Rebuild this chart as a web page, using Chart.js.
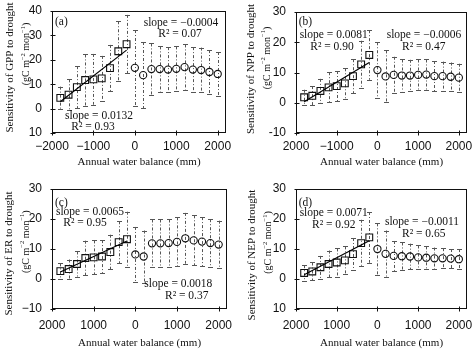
<!DOCTYPE html>
<html><head><meta charset="utf-8">
<script src="https://cdn.jsdelivr.net/npm/chart.js@4.4.0/dist/chart.umd.min.js"></script>
<style>
html,body{margin:0;padding:0;background:#fff;}
#wrap{position:relative;width:474px;height:351px;overflow:hidden;background:#fff;}
canvas{position:absolute;}
</style></head><body><div id="wrap">
<canvas id="ca" style="left:0px;top:0px"></canvas>
<canvas id="cb" style="left:237px;top:0px"></canvas>
<canvas id="cc" style="left:0px;top:175px"></canvas>
<canvas id="cd" style="left:237px;top:175px"></canvas>
</div>
<script>
// ---- data ----
const xNeg = [-1800,-1600,-1400,-1200,-1000,-800,-600,-400,-200];
const xPos = [0,200,400,600,800,1000,1200,1400,1600,1800,2000];
const xTicks = [-2000,-1000,0,1000,2000];

const gppNeg    = [4.4,5.7,8.8,11.7,12.0,12.4,16.6,23.5,26.4];
const gppNegErr = [4.6,6.3,8.6,10.5,10.4,9.2,9.5,12.3,12.0];
const gppPos    = [16.7,13.7,16.2,16.2,16.0,16.3,17.0,16.0,15.8,15.0,14.2];
const gppPosErr = [15.5,13.6,10.5,9.3,9.2,9.2,9.3,9.2,9.2,9.0,9.0];
const gppFit    = [0.0132, 26.6];

const nppNeg    = [1.8,2.3,3.9,5.1,5.5,6.4,8.8,12.7,15.8];
const nppNegErr = [2.5,3.2,4.0,5.0,5.0,5.0,5.6,7.8,8.2];
const nppPos    = [10.8,8.7,9.2,9.0,9.0,9.2,9.3,8.8,8.8,8.6,8.3];
const nppPosErr = [9.2,8.6,6.0,5.3,5.2,5.1,5.0,5.0,4.8,4.7,4.6];
const nppFit    = [0.0081, 14.9];

const erNeg    = [2.5,3.2,4.9,6.9,7.1,7.4,8.9,12.2,13.2];
const erNegErr = [2.6,3.2,4.2,5.8,5.7,5.5,5.8,7.0,9.2];
const erPos    = [8.1,7.4,11.8,11.8,11.9,12.3,13.5,12.8,12.4,11.9,11.4];
const erPosErr = [9.2,8.7,8.0,8.0,7.9,8.2,8.5,8.4,8.2,8.0,8.0];
const erFit    = [0.0065, 13.9];

const nepNeg    = [1.9,2.4,3.8,4.9,5.4,6.1,8.2,11.9,13.8];
const nepNegErr = [2.6,3.0,3.8,4.5,4.7,4.7,5.4,7.8,8.5];
const nepPos    = [9.9,8.3,7.6,7.5,7.4,7.1,7.0,6.8,6.8,6.7,6.5];
const nepPosErr = [8.6,7.8,5.0,4.6,4.3,4.0,3.8,3.6,3.4,3.2,3.4];
const nepFit    = [0.0071, 14.1];

const xLabelsA = ['\u22122000','\u22121000','0','1000','2000'];
const xLabelsB = ['2000','\u22121000','0','1000','2000'];
const xLabelsC = ['2000','1000','0','1000','2000'];
const xLabelsD = ['2000','1000','0','1000','2000'];
const yTicksA = [-10,0,10,20,30,40];
const yLabelsA = ['10','0','10','20','30','40'];
const yTicksB = [-10,0,10,20,30];
const yLabelsB = ['-10','0','10','20','30'];
const yLabelsC = ['\u221210','0','10','20','30'];
const yLabelsD = ['10','0','10','20','30'];

const xTitle = 'Annual water balance (mm)';
// unit line pieces: [text, isSuperscript]
const unitParts = [['(gC m',false],['\u22122',true],[' mon',false],['\u22121',true],[')',false]];

// ---- panels ----
const panels = [
 {id:'ca', neg:gppNeg, negErr:gppNegErr, pos:gppPos, posErr:gppPosErr, fit:gppFit,
  yMin:-10, yMax:40, yTicks:yTicksA, yLabels:yLabelsA, xLabels:xLabelsA,
  yTitle:'Sensitivity of GPP to drought', w:237, h:175, area:{l:52,t:11,r:226,b:133},
  xPad:6.3, xTitlePad:6.1, yt:[[9.7,67.5],[26.7,54]],
  ann:[['(a)',55,22,'left'],['slope = \u22120.0004',181,22.7,'center'],['R\u00B2 = 0.07',180,34.3,'center'],
       ['slope = 0.0132',99,115.7,'center'],['R\u00B2 = 0.93',93,126.7,'center']]},
 {id:'cb', neg:nppNeg, negErr:nppNegErr, pos:nppPos, posErr:nppPosErr, fit:nppFit,
  yMin:-10, yMax:30, yTicks:yTicksB, yLabels:yLabelsB, xLabels:xLabelsB,
  yTitle:'Sensitivity of NPP to drought', w:237, h:175, area:{l:59,t:12,r:230,b:133},
  xPad:6.3, xTitlePad:6.1, yt:[[13.7,69],[30,58]],
  ann:[['(b)',61.7,22.3,'left'],['slope = 0.0081',96.7,35,'center'],['R\u00B2 = 0.90',95,46.7,'center'],
       ['slope = \u22120.0006',187,35,'center'],['R\u00B2 = 0.47',186.7,46.7,'center']]},
 {id:'cc', neg:erNeg, negErr:erNegErr, pos:erPos, posErr:erPosErr, fit:erFit,
  yMin:-10, yMax:30, yTicks:yTicksB, yLabels:yLabelsC, xLabels:xLabelsC,
  yTitle:'Sensitivity of ER to drought', w:237, h:176, area:{l:52,t:14,r:227,b:133.5},
  xPad:10.3, xTitlePad:1.7, yt:[[9.5,78.5],[26,66.7]],
  ann:[['(c)',55,28.3,'left'],['slope = 0.0065',90,36.7,'center'],['R\u00B2 = 0.95',85,48.3,'center'],
       ['slope = 0.0018',178.3,109.3,'center'],['R\u00B2 = 0.37',186.7,120.7,'center']]},
 {id:'cd', neg:nepNeg, negErr:nepNegErr, pos:nepPos, posErr:nepPosErr, fit:nepFit,
  yMin:-10, yMax:30, yTicks:yTicksB, yLabels:yLabelsD, xLabels:xLabelsD,
  yTitle:'Sensitivity of NEP to drought', w:237, h:176, area:{l:59,t:14,r:230,b:133.5},
  xPad:10.3, xTitlePad:1.7, yt:[[14.7,80],[31.3,67.5]],
  ann:[['(d)',61.7,28.3,'left'],['slope = 0.0071',96.7,37.7,'center'],['R\u00B2 = 0.92',96.7,50,'center'],
       ['slope = \u22120.0011',185,46.7,'center'],['R\u00B2 = 0.65',186.7,59,'center']]}
];

const SERIF = "'Liberation Serif','Times New Roman',serif";
const SANS = "'Liberation Sans',Arial,sans-serif";

function makeChart(p){
  const cv = document.getElementById(p.id);
  cv.width = p.w; cv.height = p.h;
  cv.style.width = p.w+'px'; cv.style.height = p.h+'px';
  const a = p.area;
  const negPts = xNeg.map((x,i)=>({x:x, y:p.neg[i], e:p.negErr[i]}));
  const posPts = xPos.map((x,i)=>({x:x, y:p.pos[i], e:p.posErr[i]}));
  const x0 = xNeg[0], x1 = xNeg[xNeg.length-1];
  const fitPts = [{x:x0, y:p.fit[0]*x0+p.fit[1]},{x:x1, y:p.fit[0]*x1+p.fit[1]}];

  const deco = {
    id:'deco_'+p.id,
    beforeDatasetsDraw(chart){
      const ctx = chart.ctx, xs = chart.scales.x, ys = chart.scales.y;
      ctx.save();
      ctx.strokeStyle = '#555'; ctx.lineWidth = 1;
      [negPts,posPts].forEach(arr=>arr.forEach(pt=>{
        const px = Math.round(xs.getPixelForValue(pt.x))+0.5;
        const yt = ys.getPixelForValue(pt.y+pt.e), yb = ys.getPixelForValue(pt.y-pt.e);
        ctx.setLineDash([3,2,1,2]);
        ctx.beginPath(); ctx.moveTo(px,yt); ctx.lineTo(px,yb); ctx.stroke();
        ctx.setLineDash([]);
        ctx.beginPath();
        ctx.moveTo(px-2.5,Math.round(yt)+0.5); ctx.lineTo(px+2.5,Math.round(yt)+0.5);
        ctx.moveTo(px-2.5,Math.round(yb)+0.5); ctx.lineTo(px+2.5,Math.round(yb)+0.5);
        ctx.stroke();
      }));
      ctx.restore();
    },
    afterDraw(chart){
      const ctx = chart.ctx, ca = chart.chartArea, xs = chart.scales.x, ys = chart.scales.y;
      ctx.save();
      ctx.strokeStyle = '#111'; ctx.lineWidth = 1;
      const L = Math.round(ca.left)+0.5, T = Math.round(ca.top)+0.5, R = Math.round(ca.right)-0.5, B = Math.round(ca.bottom)-0.5;
      ctx.strokeRect(L, T, R-L, B-T);
      ctx.beginPath();
      xTicks.forEach(v=>{ const px = Math.round(xs.getPixelForValue(v))+0.5; ctx.moveTo(px,B-2); ctx.lineTo(px,B+3); });
      p.yTicks.forEach(v=>{ const py = Math.round(ys.getPixelForValue(v))+0.5; ctx.moveTo(L-2,py); ctx.lineTo(L+3,py); });
      ctx.stroke();
      ctx.fillStyle = '#111';
      ctx.textBaseline = 'middle';
      ctx.font = '11.5px '+SERIF;
      p.ann.forEach(t=>{ ctx.textAlign = t[3]; ctx.fillText(t[0], t[1], t[2]); });
      // y title line 1
      ctx.font = '11px '+SERIF;
      ctx.textAlign = 'center';
      ctx.save(); ctx.translate(p.yt[0][0], p.yt[0][1]); ctx.rotate(-Math.PI/2);
      ctx.fillText(p.yTitle, 0, 0); ctx.restore();
      // y title line 2 with superscripts
      const baseF = '10px '+SERIF, supF = '6.5px '+SERIF;
      let total = 0;
      unitParts.forEach(u=>{ ctx.font = u[1]?supF:baseF; total += ctx.measureText(u[0]).width; });
      ctx.save(); ctx.translate(p.yt[1][0], p.yt[1][1]); ctx.rotate(-Math.PI/2);
      ctx.textAlign = 'left';
      let cx = -total/2;
      unitParts.forEach(u=>{ ctx.font = u[1]?supF:baseF; ctx.fillText(u[0], cx, u[1]?-3.5:0); cx += ctx.measureText(u[0]).width; });
      ctx.restore();
      ctx.restore();
    }
  };

  return new Chart(cv, {
    type:'scatter',
    data:{datasets:[
      {data:negPts, pointStyle:'rect', pointRadius:4.8, borderColor:'#111', backgroundColor:'rgba(0,0,0,0)', borderWidth:1.1, order:2},
      {data:posPts, pointStyle:'circle', pointRadius:3.6, borderColor:'#111', backgroundColor:'rgba(0,0,0,0)', borderWidth:1.1, order:2},
      {type:'line', data:fitPts, showLine:true, pointRadius:0, borderColor:'#000', borderWidth:1.2, fill:false, order:1}
    ]},
    options:{
      responsive:false, animation:false, devicePixelRatio:1,
      layout:{padding:{left:0, top:a.t, right:p.w-a.r, bottom:0}},
      plugins:{legend:{display:false}, tooltip:{enabled:false}, title:{display:false}},
      scales:{
        x:{type:'linear', min:-2000, max:2200,
           grid:{display:false, drawTicks:false}, border:{display:false},
           afterBuildTicks:s=>{ s.ticks = xTicks.map(v=>({value:v})); },
           ticks:{padding:p.xPad, color:'#111', font:{family:SANS, size:12}, maxRotation:0, autoSkip:false,
                  callback:(v)=>p.xLabels[xTicks.indexOf(v)]},
           title:{display:true, text:xTitle, color:'#111', font:{family:SERIF, size:11}, padding:{top:0, bottom:p.xTitlePad}},
           afterFit:s=>{ s.height = p.h - a.b; s.paddingLeft = 0; s.paddingRight = 0; }
        },
        y:{type:'linear', min:p.yMin, max:p.yMax,
           grid:{display:false, drawTicks:false}, border:{display:false},
           afterBuildTicks:s=>{ s.ticks = p.yTicks.map(v=>({value:v})); },
           ticks:{padding:10, color:'#111', font:{family:SANS, size:12}, autoSkip:false,
                  callback:(v)=>p.yLabels[p.yTicks.indexOf(v)]},
           afterFit:s=>{ s.width = a.l; s.paddingTop = 0; s.paddingBottom = 0; }
        }
      }
    },
    plugins:[deco]
  });
}
panels.forEach(makeChart);
</script>
</body></html>
